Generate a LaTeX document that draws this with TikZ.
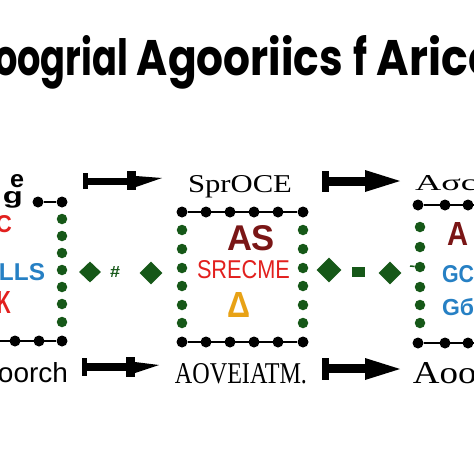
\documentclass[tikz,border=0pt]{standalone}
\usepackage{fontspec}
\usepackage{graphicx}
\usetikzlibrary{shapes.geometric}
\setmainfont{Liberation Serif}
\newfontfamily\sansf{Liberation Sans}
\newfontfamily\titlef{Poppins}
\definecolor{dgreen}{RGB}{22,88,24}
\definecolor{maroon}{RGB}{122,22,22}
\definecolor{brred}{RGB}{226,32,30}
\definecolor{skyb}{RGB}{38,128,196}
\definecolor{gold}{RGB}{232,162,22}
\newcommand{\fitbox}[3]{\resizebox{#1pt}{#2pt}{#3}}
\tikzset{
  lbl/.style={anchor=base, inner sep=0pt, outer sep=0pt},
  gdot/.style={circle, fill=dgreen, inner sep=0pt, minimum size=10.5pt},
  bdot/.style={circle, fill=black, inner sep=0pt, minimum size=11pt},
  link/.style={draw=black, line width=1.2pt},
  dia/.style={diamond, fill=dgreen, inner sep=0pt, minimum width=23pt, minimum height=23pt},
  arrowfill/.style={fill=black},
}
\begin{document}
\begin{tikzpicture}[x=1pt,y=-1pt]
\useasboundingbox (0,0) rectangle (474,474);
\fill[white] (0,0) rectangle (474,474);

% ---------------- title ----------------
\node[lbl] (t1) at (61,75) {\fitbox{134}{40}{\titlef\bfseries oogrial}};
\node[lbl] (t2) at (240,75) {\fitbox{206}{40}{\titlef\bfseries Agooriics}};
\node[lbl] (t3) at (360,75) {\fitbox{14}{40}{\titlef\bfseries f}};
\node[lbl] (t4) at (436,75) {\fitbox{118}{40}{\titlef\bfseries Aricc}};

% ---------------- left panel ----------------
\node[lbl] (le) at (17,187) {\fitbox{14}{13}{\sansf\bfseries e}};
\node[lbl] (lg) at (13,203) {\fitbox{20}{12}{\sansf\bfseries g}};
\node[lbl, text=brred] (lc) at (4,232) {\fitbox{16}{17}{\sansf\bfseries C}};
\node[lbl, text=skyb] (lls) at (22,280) {\fitbox{46}{17}{\sansf\bfseries LLS}};
\node[lbl, text=brred] (lk) at (4,313) {\fitbox{14}{22}{\sansf\bfseries K}};
\node[lbl] (lorch) at (33,382) {\fitbox{70}{20}{\sansf oorch}};

\node[bdot] (lt1) at (38,202) {};
\node[bdot] (lt2) at (62,202) {};
\foreach \i/\y in {1/219,2/236,3/253,4/270,5/287,6/304,7/322}
  \node[gdot] (lr\i) at (62,\y) {};
\node[bdot] (lb0) at (15,341) {};
\node[bdot] (lb1) at (39,341) {};
\node[bdot] (lb2) at (62,341) {};
\coordinate (lbs) at (0,341);
\draw[link] (lt1) -- (lt2);
\draw[link] (lbs) -- (lb2);

% left arrows (dagger shaped)
\fill[arrowfill] (83,173) rectangle (88,189);
\fill[arrowfill] (88,178) rectangle (129,185);
\fill[arrowfill] (127,171) rectangle (136,190);
\fill[arrowfill] (136,176) -- (162,178) -- (136,187) -- cycle;

\fill[arrowfill] (82,358) rectangle (87,376);
\fill[arrowfill] (87,363) rectangle (128,371);
\fill[arrowfill] (126,357) rectangle (135,377);
\fill[arrowfill] (135,362) -- (159,365) -- (135,373) -- cycle;

% left diamonds
\node[dia, minimum width=22pt, minimum height=21pt] (ld1) at (90,272) {};
\node[lbl, text=dgreen] (lh) at (115,277) {\fitbox{10}{11}{\sansf\bfseries \#}};
\node[dia] (ld2) at (151,273) {};

% ---------------- middle panel ----------------
\node[lbl] (ms) at (240,192) {\fitbox{104}{17}{SprOCE}};
\node[lbl, text=maroon] (mas) at (251,250) {\fitbox{48}{25}{\sansf\bfseries AS}};
\node[lbl, text=brred] (mscme) at (243.5,278) {\fitbox{93}{18}{\sansf SRECME}};
\node[lbl, text=gold] (mdelta) at (238.5,317) {\fitbox{23}{25}{\sansf\bfseries Δ}};
\node[lbl] (mav) at (241,383) {\fitbox{132}{20}{AOVEIATM.}};

\foreach \i/\x in {1/182,2/206,3/230,4/254,5/278,6/303}{
  \node[bdot] (mt\i) at (\x,212) {};
  \node[bdot] (mb\i) at (\x,342) {};
}
\draw[link] (mt1) -- (mt6);
\draw[link] (mb1) -- (mb6);
\foreach \i/\y in {1/230,2/249,3/268,4/286,5/305,6/323}{
  \node[gdot] (ml\i) at (182,\y) {};
  \node[gdot] (mr\i) at (303,\y) {};
}

% right diamonds
\node[dia, minimum width=25pt, minimum height=25pt] (rd1) at (329,270) {};
\node[fill=dgreen, inner sep=0pt, minimum width=13pt, minimum height=10pt] (rdash) at (358.5,272) {};
\node[dia] (rd2) at (390,273) {};

% right arrows
\fill[arrowfill] (322,171) rectangle (329,192);
\fill[arrowfill] (329,177) rectangle (367,186);
\fill[arrowfill] (365,170) -- (400,181) -- (365,192) -- cycle;

\fill[arrowfill] (322,358) rectangle (329,380);
\fill[arrowfill] (329,364) rectangle (367,373);
\fill[arrowfill] (365,358) -- (400,369) -- (365,380) -- cycle;

% ---------------- right panel ----------------
\node[lbl] (rac) at (446,190) {\fitbox{62}{15}{Aσc}};
\node[lbl, text=maroon] (ra) at (457.5,245) {\fitbox{21}{23}{\sansf\bfseries A}};
\node[lbl, text=skyb] (rgc) at (458,282) {\fitbox{32}{17}{\sansf\bfseries GC}};
\node[lbl, text=skyb] (rgb) at (458,315) {\fitbox{32}{17}{\sansf\bfseries Gб}};
\node[lbl] (raoor) at (451,383) {\fitbox{76}{21}{Aoor}};

\foreach \i/\x in {1/418,2/445,3/468}{
  \node[bdot] (rt\i) at (\x,205) {};
  \node[bdot] (rb\i) at (\x,343) {};
}
\coordinate (rte) at (474,205);
\coordinate (rbe) at (474,343);
\draw[link] (rt1) -- (rte);
\draw[link] (rb1) -- (rbe);
\foreach \i/\y in {1/227,2/247,3/267,4/287,5/305,6/323}
  \node[gdot] (rl\i) at (420,\y) {};
\coordinate (tick) at (410,266);
\draw[dgreen, line width=1.5pt] (tick) -- (rl3);
\end{tikzpicture}
\end{document}
